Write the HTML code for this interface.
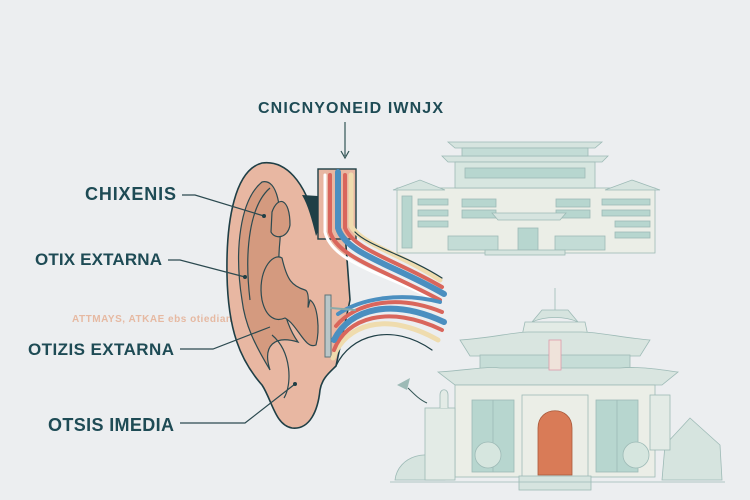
<!DOCTYPE html>
<html><head><meta charset="utf-8"><style>
body{margin:0;background:#eceef0;}
svg{display:block}
.lb{font-family:"Liberation Sans",sans-serif;font-weight:bold;fill:#1e4b55}
</style></head><body>
<svg width="750" height="500" viewBox="0 0 750 500" xmlns="http://www.w3.org/2000/svg">
<rect width="750" height="500" fill="#eceef0"/>
<text x="258" y="113" class="lb" font-size="16" textLength="185">CNICNYONEID IWNJX</text>
<line x1="345" y1="122" x2="345" y2="156" stroke="#355" stroke-width="1.2"/>
<path d="M341,151 L345,158 L349,151" fill="none" stroke="#355" stroke-width="1.2"/>
<text x="85" y="200" class="lb" font-size="18" textLength="91">CHIXENIS</text>
<text x="35" y="265" class="lb" font-size="17" textLength="127">OTIX EXTARNA</text>
<text x="72" y="322" font-family="Liberation Sans,sans-serif" font-size="10" fill="#e6b9a2" font-weight="bold" textLength="160">ATTMAYS, ATKAE ebs otiedian</text>
<text x="28" y="355" class="lb" font-size="17" textLength="146">OTIZIS EXTARNA</text>
<text x="48" y="431" class="lb" font-size="18" textLength="126">OTSIS IMEDIA</text>
<!-- ear -->
<path d="M316,224 C305,180 285,160 262,163 C235,170 226,220 227,275 C228,330 240,360 262,385 C272,400 275,425 292,428 C310,430 318,410 320,390 C322,378 330,372 336,366 L350,300 L345,232 Z" fill="#e8b7a2" stroke="#1f3f46" stroke-width="1.6"/>
<path d="M318,196 C322,210 321,228 316,236 C312,220 308,205 302,195 Z" fill="#1f3f46"/>
<path d="M242,300 C234,250 240,200 262,182 C278,178 282,210 280,240 C276,280 282,320 298,342 C275,335 262,345 270,370 C255,345 245,325 242,300 Z" fill="#d49a7f" stroke="#2c4a50" stroke-width="1.2"/>
<path d="M250,300 C244,250 250,205 270,188" fill="none" stroke="#2c4a50" stroke-width="1.2"/>
<path d="M272,212 C278,195 290,198 290,225 C288,238 275,240 271,232 Z" fill="#d49a7f" stroke="#2c4a50" stroke-width="1.2"/>
<path d="M262,300 C257,272 272,252 282,258 C287,280 292,286 305,290 C312,292 305,320 310,300 C318,305 320,330 316,345 C305,350 298,325 285,318 C276,322 266,318 262,300 Z" fill="#d49a7f" stroke="#2c4a50" stroke-width="1.2"/>
<path d="M272,335 C292,352 292,385 284,398" fill="none" stroke="#2c4a50" stroke-width="1.2"/>
<!-- leader lines -->
<g stroke="#2c4a50" stroke-width="1.2" fill="none">
<path d="M182,195 L195,195 L264,216"/>
<path d="M168,260 L180,260 L245,277"/>
<path d="M180,349 L213,349 L270,327"/>
<path d="M180,423 L245,423 L295,384"/>
</g>
<g fill="#1f3f46"><circle cx="264" cy="216" r="2"/><circle cx="245" cy="277" r="2"/><circle cx="295" cy="384" r="2"/></g>
<!-- tube -->
<rect x="318" y="169" width="38" height="70" fill="#e8b7a2" stroke="#1f3f46" stroke-width="1.4"/>
<g fill="none" stroke-linecap="round">
<path d="M325,175 L325,232 C332,262 380,272 436,300" stroke="#fff" stroke-width="3"/>
<path d="M330,175 L330,232 C338,258 385,270 440,300" stroke="#d9665c" stroke-width="4"/>
<path d="M338,172 L338,228 C346,254 392,264 444,294" stroke="#4b8fc0" stroke-width="6"/>
<path d="M345,175 L345,228 C354,250 396,260 442,287" stroke="#d9665c" stroke-width="4"/>
<path d="M351,175 L351,226 C362,245 402,254 440,280" stroke="#efdcae" stroke-width="5"/>
<path d="M355,232 C368,246 408,256 442,278" stroke="#1f3f46" stroke-width="1.2"/>
</g>
<rect x="325" y="295" width="6" height="62" fill="#b9c6c8" stroke="#5e7478" stroke-width="1"/>
<g fill="none" stroke-linecap="round">
<path d="M333,358 C345,325 385,310 438,340" stroke="#efdcae" stroke-width="5"/>
<path d="M334,350 C346,318 388,304 442,330" stroke="#d9665c" stroke-width="4"/>
<path d="M334,340 C350,308 392,298 444,322" stroke="#4b8fc0" stroke-width="6"/>
<path d="M336,326 C356,302 398,294 442,312" stroke="#d9665c" stroke-width="4"/>
<path d="M338,314 C362,298 402,292 440,302" stroke="#4b8fc0" stroke-width="4"/>
<path d="M336,366 C350,335 392,322 432,350" stroke="#1f3f46" stroke-width="1.2"/>
<path d="M331,308 L355,310" stroke="#8aa" stroke-width="2"/>
</g>
<!-- top building -->
<g stroke="#9dbab6" stroke-width="0.8" fill="#e6ece6">
<rect x="397" y="188" width="258" height="65" fill="#ebeee7"/>
<path d="M448,162 L602,162 L608,156 L442,156 Z" fill="#d6e4df"/>
<path d="M455,148 L595,148 L602,142 L448,142 Z" fill="#d6e4df"/>
<rect x="462" y="148" width="126" height="8" fill="#c3dcd6"/>
<rect x="455" y="162" width="140" height="26" fill="#d7e6e0"/>
<rect x="465" y="168" width="120" height="10" fill="#b7d6cf"/>
<path d="M393,190 L420,180 L445,190 Z M605,190 L632,180 L660,190 Z" fill="#d6e4df"/>
<rect x="402" y="196" width="10" height="52" fill="#b7d6cf"/>
<rect x="418" y="199" width="30" height="6" fill="#b7d6cf"/><rect x="418" y="210" width="30" height="6" fill="#b7d6cf"/><rect x="418" y="221" width="30" height="6" fill="#b7d6cf"/>
<rect x="462" y="199" width="34" height="8" fill="#b7d6cf"/><rect x="462" y="210" width="34" height="8" fill="#b7d6cf"/>
<rect x="556" y="199" width="34" height="8" fill="#b7d6cf"/><rect x="556" y="210" width="34" height="8" fill="#b7d6cf"/>
<rect x="602" y="199" width="48" height="6" fill="#b7d6cf"/><rect x="602" y="210" width="48" height="6" fill="#b7d6cf"/><rect x="615" y="221" width="35" height="6" fill="#b7d6cf"/><rect x="615" y="232" width="35" height="6" fill="#b7d6cf"/>
<path d="M498,220 L560,220 L566,213 L492,213 Z" fill="#d6e4df"/>
<rect x="518" y="228" width="20" height="22" fill="#b7d6cf"/>
<rect x="448" y="236" width="50" height="14" fill="#c3dcd6"/><rect x="555" y="236" width="50" height="14" fill="#c3dcd6"/>
<rect x="485" y="250" width="80" height="5" fill="#d6e4df"/>
</g>
<!-- bottom building -->
<g stroke="#9dbab6" stroke-width="0.8" fill="#e6ece6">
<line x1="555" y1="288" x2="555" y2="312"/>
<path d="M532,322 C545,316 565,316 578,322 L568,310 L542,310 Z" fill="#d6e4df"/>
<path d="M520,345 L590,345 L585,322 L525,322 Z" fill="#e3ebe6"/>
<path d="M460,340 C490,338 515,332 528,332 L582,332 C598,332 625,338 650,340 L640,356 L470,356 Z" fill="#d9e5e0"/>
<rect x="480" y="355" width="150" height="28" fill="#c6ddd7"/>
<path d="M438,372 C470,370 488,366 500,368 L620,368 C640,366 662,370 678,372 L662,385 L455,385 Z" fill="#d9e5e0"/>
<rect x="455" y="385" width="200" height="92" fill="#ebeee7"/>
<rect x="472" y="400" width="42" height="72" fill="#b7d6cf"/>
<rect x="596" y="400" width="42" height="72" fill="#b7d6cf"/>
<line x1="493" y1="400" x2="493" y2="472"/><line x1="617" y1="400" x2="617" y2="472"/>
<rect x="522" y="395" width="66" height="82" fill="#ebeee7"/>
<path d="M538,475 L538,428 C538,405 572,405 572,428 L572,475 Z" fill="#d97b57" stroke="#a85a3c"/>
<rect x="549" y="340" width="12" height="30" fill="#efe3da" stroke="#d9a"/>
<rect x="519" y="476" width="72" height="14" fill="#d6e4df"/>
<path d="M395,480 C398,455 430,448 445,462 L445,480 Z" fill="#d6e4df"/>
<rect x="425" y="408" width="30" height="72" fill="#e3ebe6"/>
<path d="M440,408 L440,395 C440,388 448,388 448,395 L448,408" fill="#e3ebe6"/>
<path d="M662,480 L665,445 L690,418 L720,445 L722,480 Z" fill="#d6e4df"/>
<rect x="650" y="395" width="20" height="55" fill="#e3ebe6"/>
<circle cx="488" cy="455" r="13" fill="#d6e6df"/>
<circle cx="636" cy="455" r="13" fill="#d6e6df"/>
<line x1="390" y1="482" x2="725" y2="482"/>
</g>
<path d="M397,385 L410,378 L407,390 Z" fill="#9dbab6"/>
<path d="M408,388 C415,395 420,400 427,403" fill="none" stroke="#355" stroke-width="1"/>
</svg>
</body></html>
